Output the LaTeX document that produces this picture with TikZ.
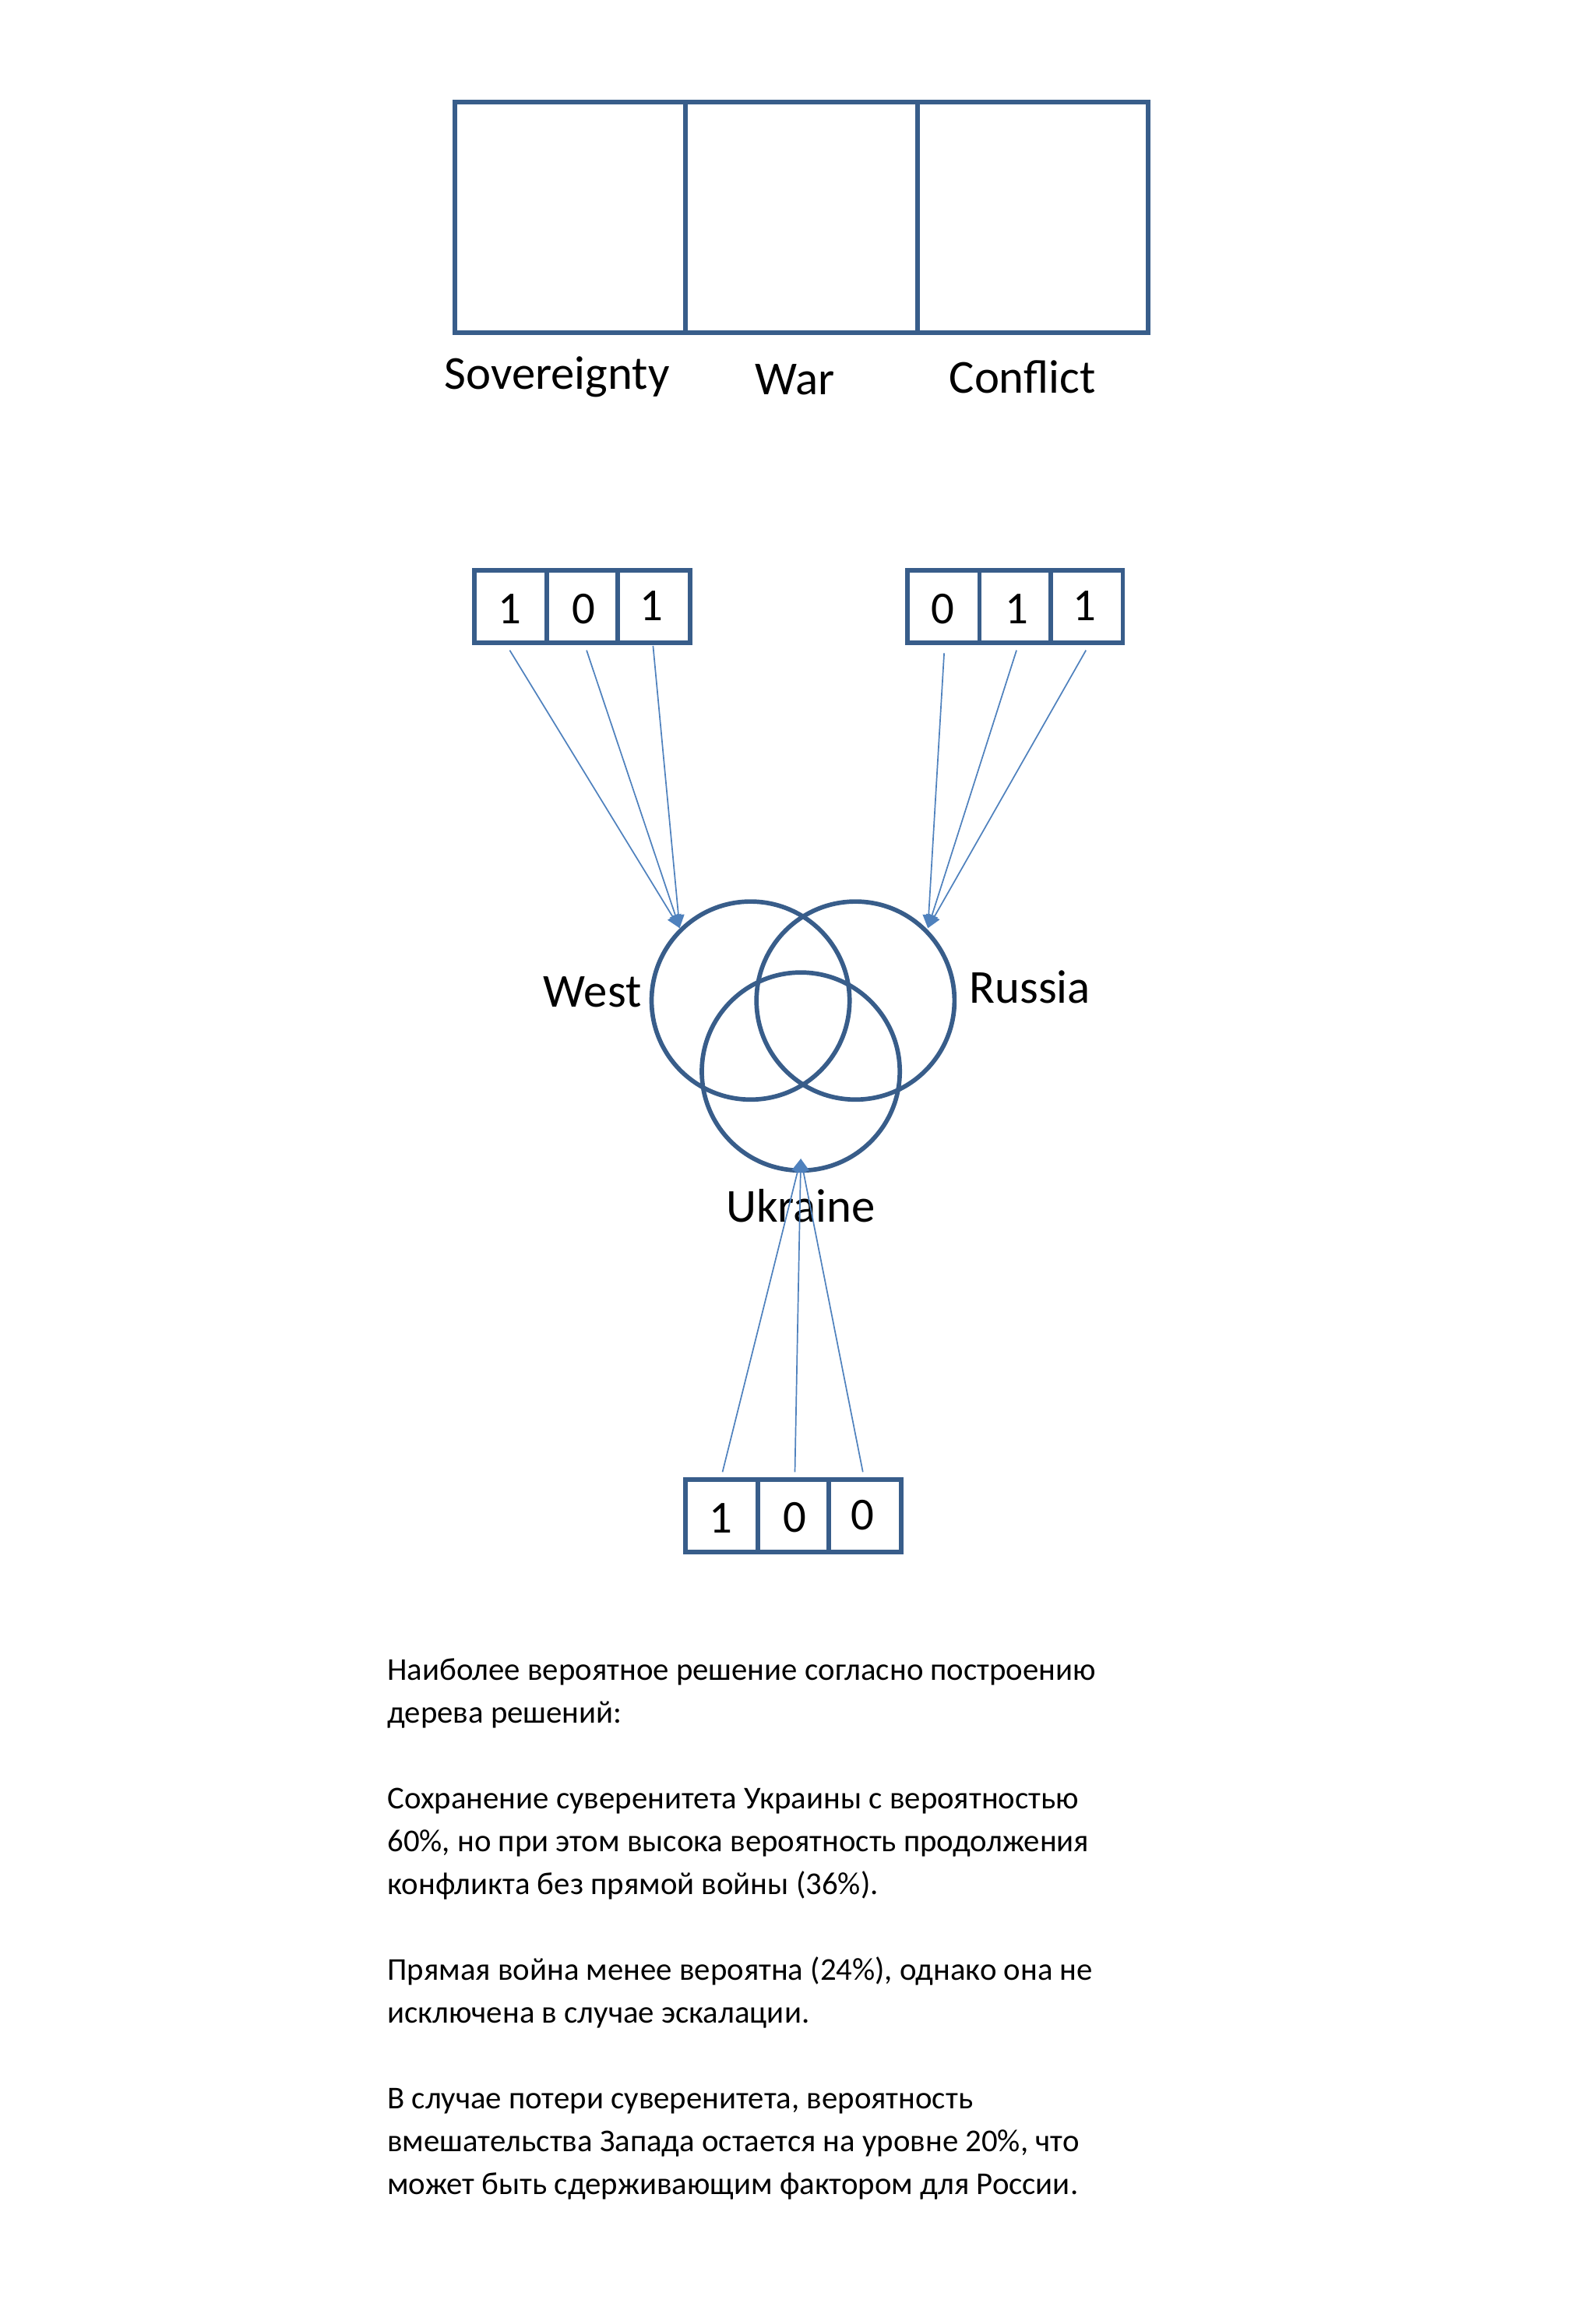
\documentclass[tikz,border=0pt]{standalone}
\usepackage{fontspec}
\setmainfont{Carlito}
\usetikzlibrary{arrows.meta}
\definecolor{boxc}{HTML}{385D8A}
\definecolor{arrc}{HTML}{4F81BD}
\begin{document}
\begin{tikzpicture}[x=1pt,y=-1pt,
  bx/.style={draw=boxc,line width=3pt},
  lbl/.style={font=\fontsize{32}{36}\selectfont},
  dig/.style={font=\fontsize{31}{34}\selectfont},
  arr/.style={draw=arrc,line width=0.9pt,-{Triangle[length=9pt,width=8pt]}}]
\useasboundingbox (0,0) rectangle (1080,1561);
% top boxes
\draw[bx] (308,69) rectangle (777,225);
\draw[bx] (464,69) -- (464,225);
\draw[bx] (621,69) -- (621,225);
\node[lbl] (sov) at (377,255) {Sovereignty};
\node[lbl] (war) at (538,257) {War};
\node[lbl] (con) at (692,255) {Conflict};
% small boxes
\foreach \n/\x/\y/\a/\b/\c in {L/321/386/1/0/1, R/614/386/0/1/1, B/464/1001/1/0/0}{
  \draw[bx] (\x,\y) rectangle ++(146,49);
  \draw[bx] (\x+49,\y) -- ++(0,49);
  \draw[bx] (\x+97,\y) -- ++(0,49);
  \node[dig] (\n1) at (\x+24,\y+26) {\a};
  \node[dig] (\n2) at (\x+74,\y+26) {\b};
  \node[dig] (\n3) at (\x+120,\y+24) {\c};
}
% circles
\draw[boxc,line width=3pt] (508,677) circle (67);
\draw[boxc,line width=3pt] (579,677) circle (67);
\draw[boxc,line width=3pt] (542,725) circle (67);
\node[lbl] (west) at (401,671) {West};
\node[lbl] (rus) at (697,668) {Russia};
\node[lbl] (ukr) at (542,816) {Ukraine};
% arrow endpoints
\coordinate (tw) at (460,628);
\coordinate (tr) at (628,628);
\coordinate (tu) at (542,784);
\coordinate (sL1) at (345,440); \coordinate (sL2) at (397,440); \coordinate (sL3) at (442,437);
\coordinate (sR1) at (639,442); \coordinate (sR2) at (688,440); \coordinate (sR3) at (735,440);
\coordinate (sB1) at (489,996); \coordinate (sB2) at (538,996); \coordinate (sB3) at (584,996);
\foreach \s in {sL1,sL2,sL3} \draw[arr] (\s) -- (tw);
\foreach \s in {sR1,sR2,sR3} \draw[arr] (\s) -- (tr);
\foreach \s in {sB1,sB2,sB3} \draw[arr] (\s) -- (tu);
% text
\node[anchor=north west,align=left,inner sep=0pt,font=\fontsize{21.5}{29}\selectfont] (txt) at (262,1122) {%
Наиболее вероятное решение согласно построению\\
дерева решений:\\[29pt]
Сохранение суверенитета Украины с вероятностью\\
60\%, но при этом высока вероятность продолжения\\
конфликта без прямой войны (36\%).\\[29pt]
Прямая война менее вероятна (24\%), однако она не\\
исключена в случае эскалации.\\[29pt]
В случае потери суверенитета, вероятность\\
вмешательства Запада остается на уровне 20\%, что\\
может быть сдерживающим фактором для России.};
\end{tikzpicture}
\end{document}
